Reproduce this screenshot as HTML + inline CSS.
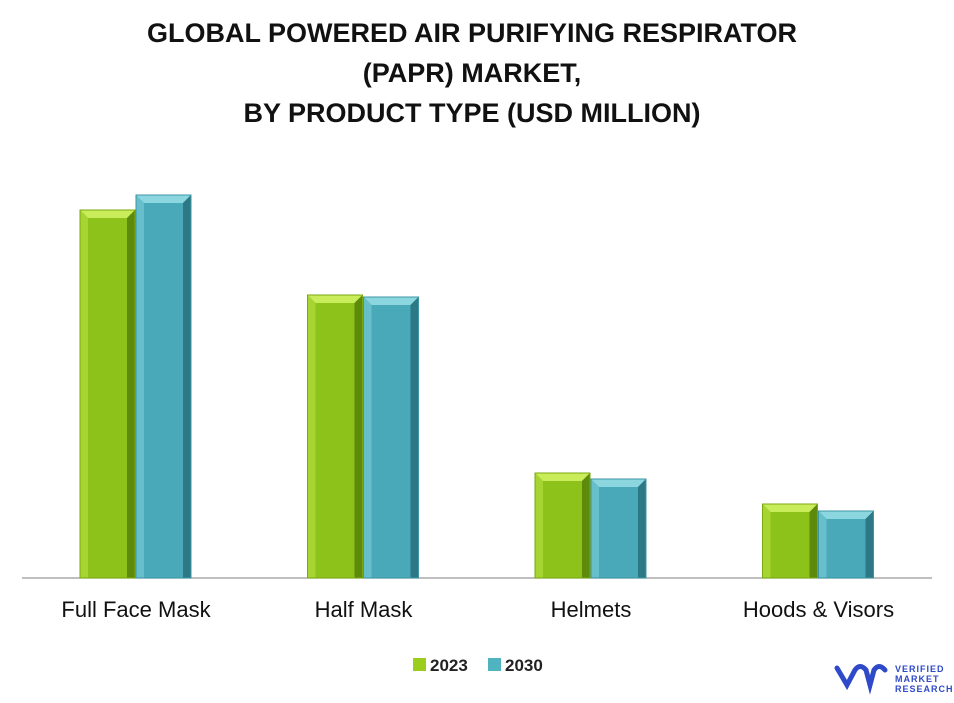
<!DOCTYPE html>
<html><head><meta charset="utf-8"><style>
body{margin:0;background:#fff;width:954px;height:698px;overflow:hidden;font-family:"Liberation Sans",sans-serif}
</style></head><body>
<svg width="954" height="698" xmlns="http://www.w3.org/2000/svg">
<g font-family="Liberation Sans, sans-serif" font-weight="bold" font-size="27" text-anchor="middle" fill="#111">
<text x="472" y="42">GLOBAL POWERED AIR PURIFYING RESPIRATOR</text>
<text x="472" y="82">(PAPR) MARKET,</text>
<text x="472" y="122">BY PRODUCT TYPE (USD MILLION)</text>
</g>
<line x1="22" y1="578" x2="932" y2="578" stroke="#999" stroke-width="1.2"/>
<g id="bars"></g>
<g id="labels" font-size="22" text-anchor="middle" fill="#111"></g>
<g font-size="17" font-weight="bold" fill="#222">
<rect x="413" y="658" width="13" height="13" fill="#9acd1e"/>
<text x="430" y="671">2023</text>
<rect x="488" y="658" width="13" height="13" fill="#4fb3c0"/>
<text x="505" y="671">2030</text>
</g>
<g>
<path d="M837 668 L847 685 L855 670 Q860 663 866 670 L870 685 L874 670 Q879 663 885 670" fill="none" stroke="#2f4ac8" stroke-width="5" stroke-linecap="round"/>
<text x="895" y="672" font-size="9" font-weight="bold" fill="#2f4ac8" letter-spacing="1">VERIFIED</text>
<text x="895" y="682" font-size="9" font-weight="bold" fill="#2f4ac8" letter-spacing="1">MARKET</text>
<text x="895" y="692" font-size="9" font-weight="bold" fill="#2f4ac8" letter-spacing="1">RESEARCH</text>
</g>
</svg>
<script>
const categories=["Full Face Mask","Half Mask","Helmets","Hoods & Visors"];
const values2023=[368,283,105,74];
const values2030=[383,281,99,67];
const base=578, plotH=400, maxV=400;
function y(v){return base - v/maxV*plotH;}
function xc(i){return 136+i*227.5;}
const NS="http://www.w3.org/2000/svg";
const bars=document.getElementById('bars'), labels=document.getElementById('labels');
function poly(g,pts,fill){const p=document.createElementNS(NS,'polygon');p.setAttribute('points',pts.map(a=>a.join(',')).join(' '));p.setAttribute('fill',fill);g.appendChild(p);}
function bar(x,w,v,c,name){
 const g=document.createElementNS(NS,'g');
 
 
 const t=y(v),b=base,e=8;
 poly(g,[[x,t],[x+w,t],[x+w,b],[x,b]],c.face);
 poly(g,[[x,t],[x+w,t],[x+w-e,t+e],[x+e,t+e]],c.top);
 poly(g,[[x,t],[x+e,t+e],[x+e,b],[x,b]],c.left);
 poly(g,[[x+w,t],[x+w,b],[x+w-e,b],[x+w-e,t+e]],c.right);
 const r=document.createElementNS(NS,'rect');r.setAttribute('x',x);r.setAttribute('y',t);r.setAttribute('width',w);r.setAttribute('height',b-t);r.setAttribute('fill','none');r.setAttribute('stroke',c.edge);r.setAttribute('stroke-width','1');g.appendChild(r);
 bars.appendChild(g);
}
const green={face:"#8cc21a",top:"#c8ec5a",left:"#a6d430",right:"#5e8a0c",edge:"#7aa810"};
const teal={face:"#49a9b8",top:"#8cd6e0",left:"#68bfcc",right:"#2c7884",edge:"#3c96a4"};
categories.forEach((c,i)=>{
 bar(xc(i)-56,55,values2023[i],green,'bar-2023-'+i);
 bar(xc(i),55,values2030[i],teal,'bar-2030-'+i);
 const t=document.createElementNS(NS,'text');t.setAttribute('x',xc(i));t.setAttribute('y',617);t.textContent=c;
 
 
 labels.appendChild(t);
});
</script>
</body></html>
